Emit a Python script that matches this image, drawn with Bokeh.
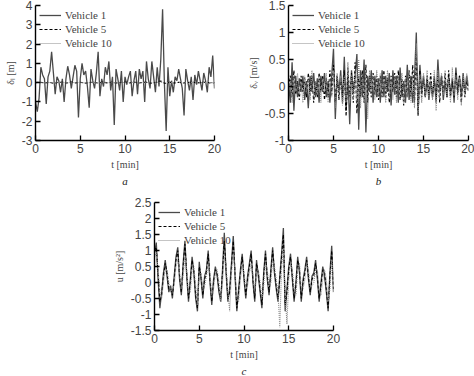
import numpy as np
from bokeh.plotting import figure
from bokeh.layouts import column, row
from bokeh.models import Spacer, FixedTicker, Title, Range1d, CustomJSTickFormatter, Legend, LegendItem
from bokeh.embed import file_html
from bokeh.resources import INLINE

labels = ["Vehicle 1", "Vehicle 5", "Vehicle 10"]
x_ticks = [0, 5, 10, 15, 20]

# Panel a: spacing error delta_l [m]
a_v1 = [-1.0, -1.5, -0.8, 0.8, 0.4, 0.2, -1.1, 0.3, 0.6, 1.6,
        0.5, -0.6, 0.3, 0.1, -0.5, 0.2, -1.0, 0.2, 0.85, 0.4,
        -0.3, 0.3, 0.9, 0.6, -1.8, 0.2, 1.0, 0.4, 0.6, -0.2,
        -1.3, 0.7, 0.1, -0.3, 0.5, 1.6, -0.7, 0.2, -0.2, 0.8,
        0.4, 1.1, -0.4, 0.3, -2.2, 0.7, 0.2, -0.4, 0.6, -1.0,
        0.3, -0.1, 0.3, 0.6, -0.7, 0.1, 0.6, -0.6, 0.7, 0.2,
        0.6, -1.0, 1.1, 0.2, -0.3, 1.1, 0.3, -0.5, 0.8, -0.2,
        1.2, 3.8, 0.0, -2.5, 0.8, -0.7, 0.1, -0.5, 0.3, 0.1,
        0.7, 0.2, -0.3, -1.7, 0.7, 0.1, -0.4, 0.3, -0.9, 0.4,
        -0.1, 0.6, 0.1, -0.4, 0.5, 0.1, -0.5, 0.8, 0.3, 1.4, -0.3]
a_v5 = [0.0, 0.03, -0.02, 0.02, -0.03, 0.01, 0.02, -0.02, 0.03, -0.01,
        0.02, -0.03, 0.01, 0.02, -0.02, 0.03, -0.01, 0.02, -0.02, 0.01,
        0.02, -0.01, 0.03, -0.02, 0.01, 0.02, -0.03, 0.02, 0.08, -0.04,
        0.02, -0.01, 0.02, -0.02, 0.01, 0.03, -0.02, 0.01, 0.02, -0.01, 0.0]
a_v10 = [0.0, 0.01, -0.01, 0.01, -0.01, 0.01, 0.01, -0.01, 0.01, 0.0,
         0.01, -0.01, 0.0, 0.01, -0.01, 0.01, 0.0, 0.01, -0.01, 0.0,
         0.01, 0.0, 0.01, -0.01, 0.0, 0.01, -0.01, 0.01, 0.03, -0.02,
         0.01, 0.0, 0.01, -0.01, 0.0, 0.01, -0.01, 0.0, 0.01, 0.0, 0.0]

# Panel b: speed error delta_v [m/s]
b_v1 = [0.1, -0.3, 0.45, -0.45, 0.2, -0.2, 0.15, -0.1, 0.2, -0.25,
        0.1, -0.4, 0.2, -0.1, 0.25, -0.2, 0.15, -0.3, 0.2, -0.1,
        0.25, -0.2, 0.1, -0.3, 0.2, 0.7, -0.6, 0.2, -0.1, 0.3,
        -0.3, 0.55, -0.45, 0.2, -0.7, 0.3, -0.1, 0.2, 0.6, -0.8,
        0.3, -0.2, 0.5, -0.85, 0.2, -0.1, 0.3, -0.3, 0.2, -0.2,
        0.15, -0.3, 0.3, -0.2, 0.2, -0.1, 0.25, -0.35, 0.3, -0.15,
        0.2, -0.3, 0.35, -0.2, 0.1, -0.3, 0.4, -0.25, 0.2, -0.3,
        0.15, 1.0, -0.5, 0.4, -0.1, 0.2, -0.2, 0.15, -0.25, 0.1,
        -0.2, 0.2, -0.3, 0.5, -0.1, 0.2, -0.25, 0.1, -0.2, 0.2,
        -0.15, 0.15, -0.3, 0.35, -0.1, 0.2, -0.2, 0.25, -0.1, 0.2, 0.0]
b_v5 = [0.0, 0.2, -0.2, 0.3, -0.15, 0.1, -0.25, 0.2, -0.1, 0.15,
        -0.2, 0.25, -0.15, 0.2, -0.3, 0.1, -0.2, 0.25, -0.1, 0.2,
        -0.25, 0.15, -0.2, 0.3, -0.15, 0.4, -0.3, 0.2, -0.25, 0.15,
        -0.2, 0.3, -0.55, 0.35, -0.2, 0.25, -0.3, 0.45, -0.5, 0.2,
        -0.2, 0.3, -0.3, 0.4, -0.3, 0.2, -0.2, 0.25, -0.15, 0.2,
        -0.25, 0.2, -0.2, 0.3, -0.2, 0.15, -0.3, 0.2, -0.1, 0.25,
        -0.2, 0.3, -0.25, 0.15, -0.35, 0.2, -0.2, 0.3, -0.2, 0.4,
        -0.3, 0.6, -0.55, 0.3, -0.2, 0.15, -0.2, 0.2, -0.15, 0.25,
        -0.2, 0.15, -0.25, 0.2, -0.3, 0.2, -0.1, 0.25, -0.2, 0.3,
        -0.2, 0.1, -0.2, 0.25, -0.15, 0.2, -0.3, 0.15, -0.2, 0.1, -0.1]
b_v10 = [-0.1, 0.15, -0.3, 0.2, -0.1, 0.25, -0.15, 0.1, -0.3, 0.2,
         -0.1, 0.15, -0.25, 0.3, -0.2, 0.1, -0.15, 0.2, -0.3, 0.15,
         -0.1, 0.25, -0.3, 0.15, -0.2, 0.3, -0.4, 0.25, -0.2, 0.2,
         -0.35, 0.2, -0.3, 0.45, -0.3, 0.2, -0.25, 0.3, -0.3, 0.5,
         -0.4, 0.2, -0.3, 0.3, -0.6, 0.3, -0.2, 0.2, -0.25, 0.3,
         -0.2, 0.25, -0.15, 0.2, -0.3, 0.3, -0.2, 0.15, -0.25, 0.2,
         -0.3, 0.2, -0.2, 0.25, -0.3, 0.15, -0.2, 0.3, -0.3, 0.2,
         -0.4, 0.8, -0.5, 0.2, -0.3, 0.25, -0.2, 0.3, -0.2, 0.15,
         -0.25, 0.3, -0.45, 0.3, -0.2, 0.25, -0.15, 0.3, -0.2, 0.15,
         -0.3, 0.35, -0.15, 0.2, -0.25, 0.15, -0.35, 0.2, -0.15, 0.25, 0.0]

# Panel c: control input u [m/s^2]
c_v1 = [0.9, 1.25, 0.1, -0.8, -0.3, 0.3, 0.7, 0.2, -0.3, -0.1,
        -0.5, 0.2, 0.8, 1.1, 0.1, -0.4, 0.6, 1.3, 0.2, -0.6,
        0.1, 0.8, 0.3, -0.5, -0.9, 0.65, 0.1, -0.5, 0.2, 0.4,
        1.0, 0.0, -0.7, 0.1, 0.5, 0.2, -0.3, -0.6, 0.4, 1.55,
        0.3, -0.6, -0.2, 0.6, 1.45, 0.2, -0.9, -0.2, 0.4, 0.9,
        0.1, -0.5, 0.2, 0.6, 1.0, 0.0, -0.6, 0.7, 0.2, -0.3,
        -0.8, 0.3, 1.0, 0.1, -0.4, 0.4, 1.1, 0.3, -0.2, -0.6,
        0.2, 0.9, 1.7, -0.9, -0.2, 0.5, 0.9, 0.1, -0.6, 0.0,
        0.8, 0.3, -0.6, 0.1, 0.4, 0.8, 0.1, -0.4, 0.2, 0.3,
        0.7, 0.1, -0.6, 0.0, 0.5, 0.2, -0.3, -0.9, 0.3, 1.15, -0.3]
c_v5 = [1.0, 1.1, 0.3, -0.6, -0.4, 0.2, 0.6, 0.3, -0.2, -0.2,
        -0.4, 0.1, 0.7, 1.0, 0.2, -0.3, 0.5, 1.2, 0.3, -0.5,
        0.0, 0.7, 0.4, -0.4, -0.8, 0.5, 0.2, -0.4, 0.1, 0.3,
        0.9, 0.1, -0.6, 0.0, 0.4, 0.3, -0.2, -0.5, 0.3, 1.3,
        0.4, -0.5, -0.3, 0.5, 1.3, 0.3, -0.8, -0.3, 0.3, 0.8,
        0.2, -0.4, 0.1, 0.5, 0.9, 0.1, -0.5, 0.6, 0.3, -0.2,
        -0.7, 0.2, 0.9, 0.2, -0.3, 0.3, 1.0, 0.4, -0.1, -0.5,
        0.1, 0.8, 1.5, -0.7, -0.3, 0.4, 0.8, 0.2, -0.5, -0.1,
        0.7, 0.4, -0.5, 0.0, 0.3, 0.7, 0.2, -0.3, 0.1, 0.2,
        0.6, 0.2, -0.5, -0.1, 0.4, 0.3, -0.2, -0.8, 0.2, 1.0, -0.2]
c_v10 = [0.8, 0.9, 0.4, -0.3, -0.5, 0.0, 0.4, 0.4, 0.0, -0.3,
         -0.2, -0.1, 0.5, 0.7, 0.3, -0.2, 0.2, 0.8, 0.4, -0.3,
         -0.3, 0.4, 0.5, -0.1, -0.7, 0.2, 0.3, -0.2, -0.1, 0.2,
         0.6, 0.3, -0.4, -0.2, 0.3, 0.4, 0.0, -0.6, 0.0, 0.8,
         0.5, -0.3, -0.9, 0.3, 0.9, 0.4, -0.5, -0.6, 0.1, 0.6,
         0.3, -0.2, -0.1, 0.3, 0.6, 0.3, -0.3, 0.3, 0.4, 0.0,
         -0.5, -0.1, 0.6, 0.4, -0.1, 0.0, 0.7, 0.5, 0.1, -0.3,
         -1.4, 0.5, 1.0, -0.4, -1.3, 0.1, 0.6, 0.4, -0.2, -0.4,
         0.4, 0.6, -0.2, -0.2, 0.1, 0.6, 0.4, -0.1, -0.1, 0.0,
         0.4, 0.4, -0.2, -0.4, 0.1, 0.4, 0.1, -0.6, -0.2, 0.7, 0.0]

SERIF = "Liberation Serif"
SANS = "Liberation Sans"
styles = [dict(line_color="#4a4a4a", line_dash="solid", line_width=1.3),
          dict(line_color="#000000", line_dash="3 2", line_width=1.1),
          dict(line_color="#8a8a8a", line_dash="1 1", line_width=1.1)]


def make_panel(series, yr, yticks, ylabel, letter, w, h, bl, br, bt, bb):
    p = figure(width=w, height=h, x_range=Range1d(0, 20), y_range=Range1d(*yr),
               output_backend="svg", toolbar_location=None,
               min_border_left=bl, min_border_right=br,
               min_border_top=bt, min_border_bottom=bb)
    p.outline_line_color = None
    p.grid.visible = False
    items = []
    for lab, vals, st in zip(labels, series, styles):
        t = np.linspace(0, 20, len(vals))
        r = p.line(t, vals, **st)
        items.append(LegendItem(label=lab, renderers=[r]))
    leg = Legend(items=items, location="top_left", background_fill_alpha=0,
                 border_line_color=None, label_text_font=SERIF,
                 label_text_font_size="11px", glyph_width=22, glyph_height=12,
                 label_height=12, spacing=2, padding=2, margin=4,
                 label_standoff=4)
    p.add_layout(leg)
    p.xaxis.ticker = FixedTicker(ticks=x_ticks)
    p.yaxis.ticker = FixedTicker(ticks=yticks)
    fmt = CustomJSTickFormatter(code="return String(tick);")
    p.xaxis.formatter = fmt
    p.yaxis.formatter = fmt
    for ax in (p.xaxis, p.yaxis):
        ax.major_tick_in = 5
        ax.major_tick_out = 0
        ax.minor_tick_line_color = None
        ax.axis_line_width = 1.4
        ax.major_tick_line_width = 1.3
        ax.major_label_text_font = SANS
        ax.major_label_text_font_size = "12px"
        ax.major_label_standoff = 3
        ax.axis_label_text_font = SERIF
        ax.axis_label_text_font_size = "10px"
        ax.axis_label_text_font_style = "normal"
        ax.axis_label_standoff = 3
    p.xaxis.axis_label = "t [min]"
    p.yaxis.axis_label = ylabel
    p.add_layout(Title(text=letter, align="center", text_font=SERIF,
                       text_font_size="11px", text_font_style="italic",
                       text_color="#222222", standoff=0), "below")
    return p


pa = make_panel([a_v1, a_v5, a_v10], (-3, 4), [-3, -2, -1, 0, 1, 2, 3, 4],
                "δₗ [m]", "a", 237, 190, 35, 23, 5, 50)
pb = make_panel([b_v1, b_v5, b_v10], (-1, 1.5), [-1, -0.5, 0, 0.5, 1, 1.5],
                "δᵥ [m/s]", "b", 237, 190, 51, 6, 5, 50)
pc = make_panel([c_v1, c_v5, c_v10], (-1.5, 2.5), [-1.5, -1, -0.5, 0, 0.5, 1, 1.5, 2, 2.5],
                "u [m/s²]", "c", 260, 186, 54, 27, 12, 38)

layout = column(row(pa, pb), row(Spacer(width=100, height=186), pc))
open("out.html", "w").write(file_html(layout, INLINE))
